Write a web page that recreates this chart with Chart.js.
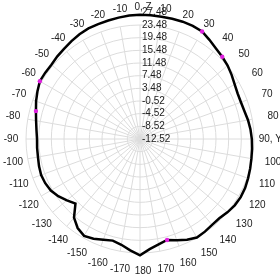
<!DOCTYPE html>
<html>
<head>
<meta charset="utf-8">
<script src="https://cdn.jsdelivr.net/npm/chart.js@4/dist/chart.umd.min.js"></script>
<style>
  html, body { margin: 0; padding: 0; background: #fff; }
  canvas { display: block; }
</style>
</head>
<body>
<canvas id="polarChart" width="280" height="280"></canvas>
<script>
// angles every 5 deg, clockwise from the top (0 = Z, 90 = Y)
const angles = [0, 5, 10, 15, 20, 25, 30, 35, 40, 45, 50, 55, 60, 65, 70, 75, 80, 85,
  90, 95, 100, 105, 110, 115, 120, 125, 130, 135, 140, 145, 150, 155, 160, 165, 170, 175,
  180, 185, 190, 195, 200, 205, 210, 215, 220, 225, 230, 235, 240, 245, 250, 255, 260, 265,
  270, 275, 280, 285, 290, 295, 300, 305, 310, 315, 320, 325, 330, 335, 340, 345, 350, 355];

// pattern values, one per angle above
const gain = [26.7, 26.7, 26.7, 26.8, 26.9, 26.9, 26.7, 25.7, 24.8, 24.2, 23.6, 22.8,
  22.0, 21.5, 21.4, 21.6, 22.1, 22.5, 22.8, 23.0, 23.2, 23.5, 23.8, 24.1,
  24.2, 24.0, 23.5, 22.9, 22.9, 23.2, 23.4, 22.6, 21.5, 20.5, 21.3, 22.4,
  24.2, 22.8, 21.4, 20.7, 21.3, 22.2, 22.8, 21.8, 19.9, 16.3, 17.6, 19.0,
  20.0, 20.5, 20.7, 20.5, 20.2, 20.1, 20.0, 20.3, 20.8, 21.5, 22.4, 23.2,
  24.0, 24.0, 24.0, 24.4, 24.7, 25.2, 25.7, 26.0, 26.1, 26.2, 26.4, 26.6];

// magenta markers sit on the curve at these angles
const markerAngles = [30, 45, 165, 285, 300];

// one label per spoke (every 10 deg)
const angleLabels = ['0, Z', '10', '20', '30', '40', '50', '60', '70', '80', '90, Y',
  '100', '110', '120', '130', '140', '150', '160', '170', '180',
  '-170', '-160', '-150', '-140', '-130', '-120', '-110', '-100', '-90',
  '-80', '-70', '-60', '-50', '-40', '-30', '-20', '-10'];

const tickLabels = ['-12.52', '-8.52', '-4.52', '-0.52', '3.48', '7.48', '11.48',
  '15.48', '19.48', '23.48', '27.48'];

const markers = angles.map((a, i) => markerAngles.includes(a) ? gain[i] : null);

const textFont = '10px "Liberation Sans", Arial, sans-serif';
const textColor = '#222';

// axis text drawn at positions given by the radial scale
const polarLabels = {
  id: 'polarLabels',
  beforeDatasetsDraw(chart) {
    const r = chart.scales.r;
    const ctx = chart.ctx;
    ctx.save();
    ctx.font = textFont;
    ctx.fillStyle = textColor;
    ctx.textBaseline = 'middle';

    ctx.textAlign = 'left';
    tickLabels.forEach(t => {
      const d = r.getDistanceFromCenterForValue(parseFloat(t));
      ctx.fillText(t, r.xCenter + 2, r.yCenter - d);
    });

    ctx.textAlign = 'center';
    angles.forEach((a, i) => {
      if (a % 10 !== 0) return;
      const text = angleLabels[a / 10];
      const w = ctx.measureText(text).width;
      const p = r.getPointPosition(i, 132);
      let x = p.x + 3;
      x = Math.min(x, chart.width - w / 2 + 2);
      ctx.fillText(text, x, p.y);
    });
    ctx.restore();
  }
};

new Chart(document.getElementById('polarChart'), {
  type: 'radar',
  data: {
    labels: angles,
    datasets: [
      {
        data: gain,
        borderColor: '#000',
        borderWidth: 2.5,
        pointRadius: 0,
        fill: false,
        clip: false,
        order: 2
      },
      {
        data: markers,
        showLine: false,
        pointRadius: 2.2,
        pointBackgroundColor: '#e020e0',
        pointBorderColor: '#e020e0',
        pointBorderWidth: 0,
        clip: false,
        order: 1
      }
    ]
  },
  options: {
    responsive: false,
    animation: false,
    layout: { padding: { left: 26, right: 26, top: 25, bottom: 27 } },
    plugins: { legend: { display: false }, tooltip: { enabled: false } },
    scales: {
      r: {
        min: -12.52,
        max: 23.48,
        ticks: { stepSize: 4, display: false },
        pointLabels: { display: false },
        grid: { color: '#dcdcdc', lineWidth: 1 },
        angleLines: {
          color: '#dcdcdc',
          lineWidth: ctx => ctx.index % 2 === 0 ? 1 : 0
        }
      }
    }
  },
  plugins: [polarLabels]
});
</script>
</body>
</html>
